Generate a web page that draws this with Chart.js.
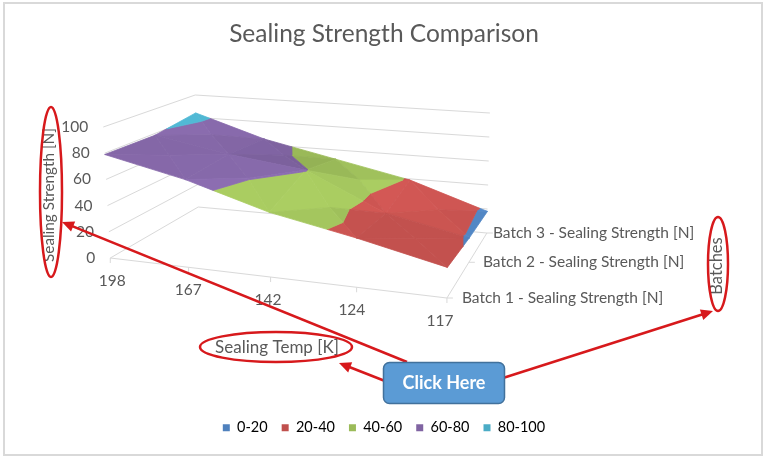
<!DOCTYPE html>
<html>
<head>
<meta charset="utf-8">
<script src="https://cdn.jsdelivr.net/npm/chart.js@4.4.0/dist/chart.umd.min.js"></script>
<style>
  html, body { margin: 0; padding: 0; background: #fff; }
</style>
</head>
<body>
<canvas id="surfaceChart" width="768" height="462"></canvas>
<script>
// data
const temps = ['198', '167', '142', '124', '117'];
const batches = ['Batch 1 - Sealing Strength [N]', 'Batch 2 - Sealing Strength [N]', 'Batch 3 - Sealing Strength [N]'];
const batch1 = [79, 66, 48, 36, 22];
const batch2 = [78.5, 68, 60.5, 32, 19];
const batch3 = [84, 65, 52, 39, 18];
const valueTicks = [0, 20, 40, 60, 80, 100];
const bands = ['0-20', '20-40', '40-60', '60-80', '80-100'];
const bandLimits = [[0, 20], [20, 40], [40, 60], [60, 80], [80, 100]];
const bandColors = ['#4F81BD', '#C0504D', '#9BBB59', '#8064A2', '#4BACC6'];

const FONT = 'Lato, "Open Sans", sans-serif';
const TEXT = '#595959';
Chart.defaults.font.family = FONT;
Chart.defaults.color = TEXT;

// screen corners of the plot cube (u = temp, v = batch depth, w = strength)
const cube = {
  p000: [110, 258], p100: [447, 298], p010: [198, 207], p110: [487, 233],
  p001: [103, 127], p101: [449, 159], p011: [195, 95], p111: [490, 113]
};

const rows = [batch1, batch2, batch3];
const nu = temps.length - 1;
const nv = rows.length - 1;

function warp(t, c) { return t / (t + c * (1 - t)); }
function lerp(p, q, t) { return [p[0] + (q[0] - p[0]) * t, p[1] + (q[1] - p[1]) * t]; }

function project(u, v, w) {
  const a = warp(u, 1.1), b = warp(v, 0.82), h = w / 100;
  const f0 = lerp(lerp(cube.p000, cube.p100, a), lerp(cube.p010, cube.p110, a), b);
  const f1 = lerp(lerp(cube.p001, cube.p101, a), lerp(cube.p011, cube.p111, a), b);
  return lerp(f0, f1, h);
}

// cut a polygon at a strength level
function clipLevel(poly, lim, keepAbove) {
  const out = [];
  for (let k = 0; k < poly.length; k++) {
    const p = poly[k], q = poly[(k + 1) % poly.length];
    const pin = keepAbove ? p[2] >= lim : p[2] <= lim;
    const qin = keepAbove ? q[2] >= lim : q[2] <= lim;
    if (pin) out.push(p);
    if (pin !== qin) {
      const t = (lim - p[2]) / (q[2] - p[2]);
      out.push([p[0] + t * (q[0] - p[0]), p[1] + t * (q[1] - p[1]), lim]);
    }
  }
  return out;
}

// light comes from the right and slightly from the front
function shadeColor(hex, tri) {
  const P = tri.map(p => [p[0] * 3.4, p[1] * 1.2, p[2] / 100 * 1.3]);
  const e1 = [P[1][0] - P[0][0], P[1][1] - P[0][1], P[1][2] - P[0][2]];
  const e2 = [P[2][0] - P[0][0], P[2][1] - P[0][1], P[2][2] - P[0][2]];
  let n = [e1[1] * e2[2] - e1[2] * e2[1], e1[2] * e2[0] - e1[0] * e2[2], e1[0] * e2[1] - e1[1] * e2[0]];
  if (n[2] < 0) n = n.map(x => -x);
  const len = Math.hypot(n[0], n[1], n[2]);
  const L = [0.5, -0.4, 1];
  const ll = Math.hypot(L[0], L[1], L[2]);
  const d = (n[0] * L[0] + n[1] * L[1] + n[2] * L[2]) / (len * ll);
  const s = Math.min(1.1, Math.max(0.93, 0.97 + 1.0 * (d - 0.84)));
  const r = parseInt(hex.slice(1, 3), 16), g = parseInt(hex.slice(3, 5), 16), b = parseInt(hex.slice(5, 7), 16);
  const c = x => Math.max(0, Math.min(255, Math.round(x * s)));
  return 'rgb(' + c(r) + ',' + c(g) + ',' + c(b) + ')';
}

// split each grid cell into four triangles around its centre
let tris = [];
for (let j = 0; j < nv; j++) {
  for (let i = 0; i < nu; i++) {
    const a = [i / nu, j / nv, rows[j][i]];
    const b = [(i + 1) / nu, j / nv, rows[j][i + 1]];
    const c = [(i + 1) / nu, (j + 1) / nv, rows[j + 1][i + 1]];
    const d = [i / nu, (j + 1) / nv, rows[j + 1][i]];
    const m = [(i + 0.5) / nu, (j + 0.5) / nv, (a[2] + b[2] + c[2] + d[2]) / 4];
    tris.push([d, c, m], [a, d, m], [b, c, m], [a, b, m]);
  }
}
// back to front
tris.sort((s, t) => (t[0][1] + t[1][1] + t[2][1]) - (s[0][1] + s[1][1] + s[2][1]));

const datasets = [];
tris.forEach(tri => {
  bandLimits.forEach((lim, k) => {
    let piece = clipLevel(tri, lim[0], true);
    if (piece.length) piece = clipLevel(piece, lim[1], false);
    if (piece.length < 3) return;
    const pts = piece.map(p => project(p[0], p[1], p[2]));
    pts.push(pts[0]);
    const col = shadeColor(bandColors[k], tri);
    datasets.push({
      label: bands[k],
      data: pts.map(p => ({ x: p[0], y: p[1] })),
      showLine: true,
      fill: 'shape',
      backgroundColor: col,
      borderColor: col,
      borderWidth: 0.8,
      borderJoinStyle: 'round',
      pointRadius: 0,
      tension: 0
    });
  });
});
// first polygon pushed is the farthest, so it must be drawn first
datasets.forEach((ds, k) => { ds.order = datasets.length - k; });

function toPx(chart, p) {
  return [chart.scales.x.getPixelForValue(p[0]), chart.scales.y.getPixelForValue(p[1])];
}

const frame = {
  id: 'frame',
  beforeDraw(chart) {
    const c = chart.ctx;
    c.save();
    c.fillStyle = '#fff';
    c.fillRect(0, 0, chart.width, chart.height);
    c.strokeStyle = '#D9D9D9';
    c.lineWidth = 2;
    c.strokeRect(4, 3, 758, 452);
    c.restore();
  }
};

const cubeGrid = {
  id: 'cubeGrid',
  beforeDatasetsDraw(chart) {
    const c = chart.ctx;
    const path = pts => {
      c.beginPath();
      pts.forEach((p, k) => {
        const q = toPx(chart, p);
        if (k === 0) c.moveTo(q[0], q[1]); else c.lineTo(q[0], q[1]);
      });
      c.stroke();
    };
    c.save();
    c.strokeStyle = '#D9D9D9';
    c.lineWidth = 1;
    valueTicks.forEach(t => path([project(0, 0, t), project(0, 1, t), project(1, 1, t)]));
    path([project(0, 0, 0), project(1, 0, 0), project(1, 1, 0)]);
    temps.forEach((_, i) => {
      const p = project(i / nu, 0, 0);
      path([p, [p[0], p[1] + 5]]);
    });
    batches.forEach((_, j) => {
      const p = project(1, j / nv, 0);
      path([p, [p[0] + 6, p[1]]]);
    });
    c.restore();
  },
  afterDatasetsDraw(chart) {
    const c = chart.ctx;
    c.save();
    c.fillStyle = TEXT;
    c.font = '15.5px ' + FONT;
    c.textBaseline = 'middle';
    c.textAlign = 'right';
    valueTicks.forEach(t => {
      const q = toPx(chart, project(0, 0, t));
      c.fillText(String(t), q[0] - 15, q[1]);
    });
    c.textAlign = 'center';
    temps.forEach((t, i) => {
      const q = toPx(chart, project(i / nu, 0, 0));
      c.fillText(t, q[0] + 2 - 9 * i / nu, q[1] + 23);
    });
    c.textAlign = 'left';
    const batchGap = [15, 14, 6];
    batches.forEach((b, j) => {
      const q = toPx(chart, project(1, j / nv, 0));
      c.fillText(b, q[0] + batchGap[j], q[1]);
    });
    // axis titles
    c.textAlign = 'center';
    c.font = '17px ' + FONT;
    c.fillText('Sealing Temp [K]', 277, 348);
    c.font = '15.3px ' + FONT;
    c.save();
    c.translate(49, 195);
    c.rotate(-Math.PI / 2);
    c.fillText('Sealing Strength [N]', 0, 0);
    c.restore();
    c.font = '16.5px ' + FONT;
    c.save();
    c.translate(717, 266);
    c.rotate(-Math.PI / 2);
    c.fillText('Batches', 0, 0);
    c.restore();
    c.restore();
  }
};

// red callouts and the blue button laid over the chart
const callouts = {
  id: 'callouts',
  afterDraw(chart) {
    const c = chart.ctx;
    const red = '#D7191C';
    const arrow = (x0, y0, x1, y1) => {
      const ang = Math.atan2(y1 - y0, x1 - x0);
      c.beginPath();
      c.moveTo(x0, y0);
      c.lineTo(x1 - 9 * Math.cos(ang), y1 - 9 * Math.sin(ang));
      c.stroke();
      c.beginPath();
      c.moveTo(x1, y1);
      c.lineTo(x1 - 12 * Math.cos(ang) + 5.5 * Math.sin(ang), y1 - 12 * Math.sin(ang) - 5.5 * Math.cos(ang));
      c.lineTo(x1 - 12 * Math.cos(ang) - 5.5 * Math.sin(ang), y1 - 12 * Math.sin(ang) + 5.5 * Math.cos(ang));
      c.closePath();
      c.fill();
    };
    c.save();
    c.strokeStyle = red;
    c.fillStyle = red;
    c.lineWidth = 2.5;
    [[51, 192, 11, 85], [276, 347, 76, 15], [718, 264, 10, 47]].forEach(e => {
      c.beginPath();
      c.ellipse(e[0], e[1], e[2], e[3], 0, 0, Math.PI * 2);
      c.stroke();
    });
    arrow(407, 362, 62, 222);
    arrow(385, 381, 339, 363);
    arrow(503, 378, 713, 311);

    c.beginPath();
    c.roundRect(383.5, 362.5, 121, 41, 6);
    c.fillStyle = '#5B9BD5';
    c.fill();
    c.strokeStyle = '#41719C';
    c.lineWidth = 1.5;
    c.stroke();
    c.fillStyle = '#fff';
    c.font = 'bold 18px ' + FONT;
    c.textAlign = 'center';
    c.textBaseline = 'middle';
    c.fillText('Click Here', 444, 383);
    c.restore();
  }
};

const ctx = document.getElementById('surfaceChart').getContext('2d');
const surfaceChart = new Chart(ctx, {
  type: 'scatter',
  data: { datasets: datasets },
  options: {
    responsive: false,
    animation: false,
    events: [],
    layout: { padding: { top: 0, bottom: 17, left: 0, right: 0 } },
    scales: {
      x: { type: 'linear', display: false },
      y: { type: 'linear', display: false, reverse: true }
    },
    plugins: {
      title: {
        display: true,
        text: 'Sealing Strength Comparison',
        color: TEXT,
        font: { size: 24.5, weight: 'normal' },
        padding: { top: 19, bottom: 10 }
      },
      legend: {
        position: 'bottom',
        onClick: null,
        labels: {
          boxWidth: 7,
          boxHeight: 7,
          padding: 14,
          color: TEXT,
          font: { size: 14.5 },
          generateLabels: () => bands.map((b, i) => ({
            text: b, fillStyle: bandColors[i], strokeStyle: bandColors[i], lineWidth: 0, hidden: false, datasetIndex: i
          }))
        }
      },
      tooltip: { enabled: false }
    }
  },
  plugins: [frame, cubeGrid, callouts]
});

// make one scale unit equal one pixel of the plot area, so the projection lands where it should
const area = surfaceChart.chartArea;
surfaceChart.options.scales.x.min = area.left;
surfaceChart.options.scales.x.max = area.right;
surfaceChart.options.scales.y.min = area.top;
surfaceChart.options.scales.y.max = area.bottom;
surfaceChart.update();
</script>
</body>
</html>
